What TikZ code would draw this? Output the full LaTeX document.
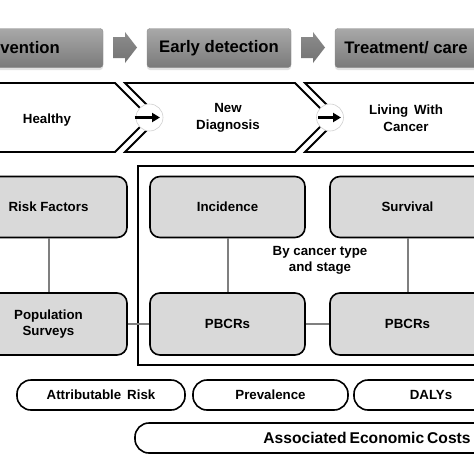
\documentclass[tikz,border=0pt]{standalone}
\usepackage{fontspec}
\setmainfont{Liberation Sans}
\usetikzlibrary{arrows.meta,shadows}
\definecolor{boxgray}{HTML}{D9D9D9}
\definecolor{conngray}{HTML}{7F7F7F}
\begin{document}
\begin{tikzpicture}[x=1pt,y=-1pt,
  topbox/.style={draw=black!45, line width=0.4pt, rounded corners=3pt,
    top color=black!34, bottom color=black!52, minimum width=144pt, minimum height=39pt,
    inner sep=0pt, drop shadow={shadow xshift=0pt, shadow yshift=-2.5pt, fill=black!22}},
  toptext/.style={font=\bfseries\fontsize{16.7}{18}\selectfont, inner sep=0pt},
  blockarrow/.style={top color=black!45, bottom color=black!55, draw=none},
  chev/.style={draw=black, line width=1.8pt, fill=white, line join=miter},
  circ/.style={circle, fill=white, draw=black!18, line width=0.6pt, minimum size=27pt, inner sep=0pt},
  fatarrow/.style={line width=2.6pt, -{Triangle[length=8pt,width=9pt]}},
  lbl/.style={font=\bfseries\fontsize{13.3}{16.5}\selectfont, align=center},
  grbox/.style={draw=black, line width=1.6pt, rounded corners=10pt, fill=boxgray,
    minimum width=155pt, minimum height=61pt, inner sep=0pt, align=center,
    font=\bfseries\fontsize{13.3}{16}\selectfont},
  conn/.style={draw=conngray, line width=2pt},
  pill/.style={draw=black, line width=1.6pt, rounded corners=14pt, fill=white,
    minimum height=30pt, inner sep=0pt, font=\bfseries\fontsize{13.3}{16}\selectfont}
]
\useasboundingbox (0,0) rectangle (474,474);
\clip (0,0) rectangle (474,474);
\fill[white] (0,0) rectangle (474,474);

% top row
\node[topbox] (b1) at (31,48) {};
\node[toptext, anchor=east] (t1) at (60,48) {vention};
\node[topbox, toptext] (b2) at (219,48) {Early detection};
\node[topbox] (b3) at (407,48) {};
\node[toptext] (t3) at (406,48) {Treatment/ care};
\path[blockarrow] (113,37) -- (125,37) -- (125,32) -- (137,47.5) -- (125,63) -- (125,58) -- (113,58) -- cycle;
\path[blockarrow] (301,37) -- (313,37) -- (313,32) -- (325,47.5) -- (313,63) -- (313,58) -- (301,58) -- cycle;

% chevrons
\draw[chev] (-5,83) -- (115,83) -- (149.5,117.5) -- (115,152) -- (-5,152);
\draw[chev] (125,83) -- (295,83) -- (329.5,117.5) -- (295,152) -- (125,152) -- (159.5,117.5) -- cycle;
\draw[chev] (485,83) -- (305,83) -- (339.5,117.5) -- (305,152) -- (485,152);
\node[circ] (c1) at (149.5,117.5) {};
\node[circ] (c2) at (330,117.5) {};
\draw[fatarrow] ([xshift=-15pt]c1.center) -- ([xshift=10.5pt]c1.center);
\draw[fatarrow] ([xshift=-12pt]c2.center) -- ([xshift=11pt]c2.center);
\node[lbl] (h) at (47,120.5) {Healthy};
\node[lbl] (nd) at (228,118) {New\\Diagnosis};
\node[lbl] (lw) at (406,118) {Living\, With\\Cancer};

% frame
\draw[line width=1.4pt] (485,166) -- (138,166) -- (138,365) -- (485,365);

% boxes
\node[grbox, minimum width=157pt] (rf) at (48.5,207) {Risk Factors};
\node[grbox, minimum width=157pt, minimum height=62pt] (ps) at (48.5,324) {Population\\Surveys};
\node[grbox] (inc) at (227.5,207) {Incidence};
\node[grbox, minimum height=62pt] (p1) at (227.5,324) {PBCRs};
\node[grbox] (sv) at (407.5,207) {Survival};
\node[grbox, minimum height=62pt] (p2) at (407.5,324) {PBCRs};
\draw[conn] (rf) -- (ps);
\draw[conn] (inc) -- (p1);
\draw[conn] (sv) -- (p2);
\draw[conn] (ps) -- (p1);
\draw[conn] (p1) -- (p2);
\node[lbl] (bc) at (320,260.5) {By cancer type\\and stage};

% pills
\node[pill, minimum width=168pt] (ar) at (101,395) {Attributable\, Risk};
\node[pill, minimum width=155pt] (pr) at (270.5,395) {Prevalence};
\node[pill, minimum width=154pt] (dl) at (431,395) {DALYs};
\node[pill, minimum width=464pt, font=\bfseries\fontsize{15.6}{18}\selectfont] (aec) at (367,438) {Associated\hspace{3pt}Economic\hspace{3pt}Costs};
\end{tikzpicture}
\end{document}
